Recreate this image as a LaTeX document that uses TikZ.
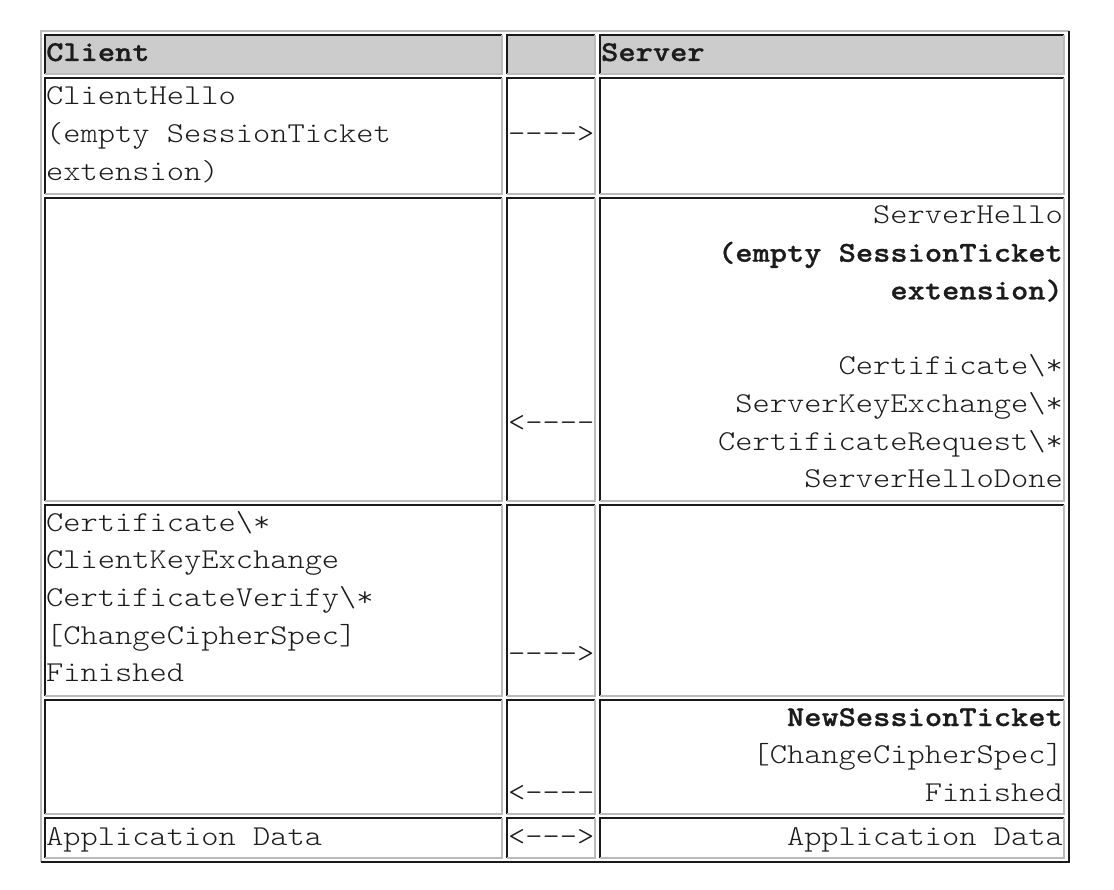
\documentclass[tikz,border=0pt]{standalone}
\usepackage{fontspec}
\setmonofont[FakeStretch=1.14, BoldFeatures={FakeBold=0.9}]{Latin Modern Mono Light}
\definecolor{ink}{HTML}{1C1C1C}
\definecolor{edgedark}{HTML}{1A1A1A}
\definecolor{edgelight}{HTML}{BBBBBB}
\definecolor{headfill}{HTML}{CCCCCC}
\begin{document}
\begin{tikzpicture}[x=1pt,y=-1pt,
  txt/.style={inner sep=0pt, text=ink, font=\ttfamily\fontsize{28.8}{37.7}\selectfont},
  bold/.style={txt, font=\ttfamily\bfseries\fontsize{28.8}{37.7}\selectfont},
  lefttxt/.style={anchor=base west},
  righttxt/.style={anchor=base east},
  darkedge/.style={draw=edgedark, line width=1.6pt},
  lightedge/.style={draw=edgelight, line width=1.6pt}]

\useasboundingbox (0,0) rectangle (1114,890);

% one table cell: dark top/left, light bottom/right
\newcommand\tcell[4]{%
  \draw[darkedge] (#1,#4) -- (#1,#2) -- (#3,#2);
  \draw[lightedge] (#3,#2) -- (#3,#4) -- (#1,#4);
}

% outer table frame: light top/left, dark bottom/right
\draw[lightedge] (41,862) -- (41,31) -- (1069,31);
\draw[darkedge] (1069,31) -- (1069,862) -- (41,862);

% header row
\fill[headfill] (45,35) rectangle (502,74);
\fill[headfill] (507,35) rectangle (595,74);
\fill[headfill] (600,35) rectangle (1064,74);

% grid of cells (columns: client, arrow, server)
\foreach \ya/\yb in {35/74, 78/194, 198/501, 505/696, 700/814, 818/858}{
  \tcell{45}{\ya}{502}{\yb}
  \tcell{507}{\ya}{595}{\yb}
  \tcell{600}{\ya}{1064}{\yb}
}

% header
\node[bold,lefttxt] (hclient) at (46,61) {Client};
\node[bold,lefttxt] (hserver) at (601,61) {Server};

% ClientHello
\node[txt,lefttxt] (ch1) at (46,105) {ClientHello};
\node[txt,lefttxt] (ch2) at (46,142.7) {(empty SessionTicket};
\node[txt,lefttxt] (ch3) at (46,180.4) {extension)};
\node[txt,lefttxt] (arr1) at (508,143) {---->};

% ServerHello flight
\node[txt,righttxt] (sh1) at (1063,224) {ServerHello};
\node[bold,righttxt] (sh2) at (1063,261.7) {(empty SessionTicket};
\node[bold,righttxt] (sh3) at (1063,299.4) {extension)};
\node[txt,righttxt] (sh4) at (1063,374.8) {Certificate\textbackslash*};
\node[txt,righttxt] (sh5) at (1063,412.5) {ServerKeyExchange\textbackslash*};
\node[txt,righttxt] (sh6) at (1063,450.2) {CertificateRequest\textbackslash*};
\node[txt,righttxt] (sh7) at (1063,487.9) {ServerHelloDone};
\node[txt,lefttxt] (arr2) at (508,431.5) {<----};

% client second flight
\node[txt,lefttxt] (cf1) at (46,531) {Certificate\textbackslash*};
\node[txt,lefttxt] (cf2) at (46,568.7) {ClientKeyExchange};
\node[txt,lefttxt] (cf3) at (46,606.4) {CertificateVerify\textbackslash*};
\node[txt,lefttxt] (cf4) at (46,644.1) {[ChangeCipherSpec]};
\node[txt,lefttxt] (cf5) at (46,681.8) {Finished};
\node[txt,lefttxt] (arr3) at (508,662.5) {---->};

% server final flight
\node[bold,righttxt] (sf1) at (1063,726) {NewSessionTicket};
\node[txt,righttxt] (sf2) at (1063,763.7) {[ChangeCipherSpec]};
\node[txt,righttxt] (sf3) at (1063,801.4) {Finished};
\node[txt,lefttxt] (arr4) at (508,801.4) {<----};

% application data
\node[txt,lefttxt] (ad1) at (46,845.5) {Application Data};
\node[txt,lefttxt] (arr5) at (508,845.5) {<--->};
\node[txt,righttxt] (ad2) at (1063,845.5) {Application Data};
\end{tikzpicture}
\end{document}
